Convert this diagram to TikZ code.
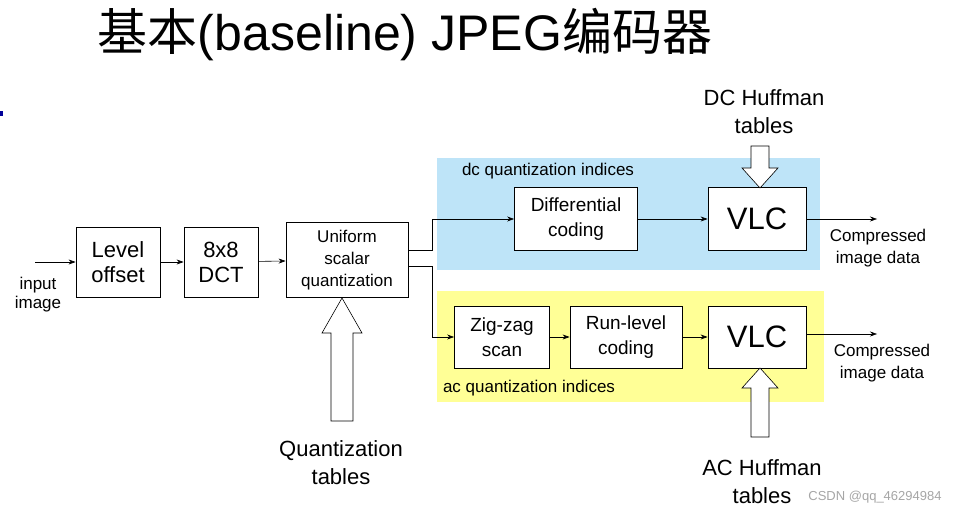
\documentclass[tikz,border=0pt]{standalone}
\usepackage{fontspec}
\setmainfont{Liberation Sans}
\newfontfamily\cjk{Noto Sans CJK SC}
\usetikzlibrary{arrows.meta}
\definecolor{dcblue}{RGB}{190,228,248}
\definecolor{acyellow}{RGB}{255,255,150}
\tikzset{
  blk/.style={draw,thick,fill=white,align=center,inner sep=0pt},
  lbl/.style={align=center,inner sep=0pt},
  con/.style={-{Stealth[length=7pt,width=5pt]},semithick},
  hollow/.style={draw,semithick,fill=white}
}
\begin{document}
\begin{tikzpicture}[x=1pt,y=-1pt]
\useasboundingbox (0,0) rectangle (975,513);
\fill[white] (0,0) rectangle (975,513);
% title
\node[lbl,font=\fontsize{50}{54}\selectfont] (title) at (405,35) {{\cjk 基本}(baseline) JPEG{\cjk 编码器}};
\fill[blue!60!black] (0,111) rectangle (3,116);
% background bands
\fill[dcblue] (437,158) rectangle (820,270);
\fill[acyellow] (437,291) rectangle (824,402);
% boxes
\node[blk,minimum width=84,minimum height=70,font=\fontsize{22}{25}\selectfont] (lvl) at (118,262) {Level\\offset};
\node[blk,minimum width=74,minimum height=70,font=\fontsize{22}{25}\selectfont] (dct) at (221,262) {8x8\\DCT};
\node[blk,minimum width=122,minimum height=75,font=\fontsize{17}{22}\selectfont] (q) at (347,260) {Uniform\\scalar\\quantization};
\node[blk,minimum width=123,minimum height=63,font=\fontsize{19}{25}\selectfont] (diff) at (576,219) {Differential\\coding};
\node[blk,minimum width=98,minimum height=63,font=\fontsize{31}{33}\selectfont] (vlc1) at (757,219) {VLC};
\node[blk,minimum width=95,minimum height=62,font=\fontsize{19}{25}\selectfont] (zz) at (502,337) {Zig-zag\\scan};
\node[blk,minimum width=112,minimum height=62,font=\fontsize{19}{25}\selectfont] (rl) at (626,337) {Run-level\\coding};
\node[blk,minimum width=98,minimum height=62,font=\fontsize{31}{33}\selectfont] (vlc2) at (757,337) {VLC};
% labels
\node[lbl,font=\fontsize{17}{19}\selectfont] (inl) at (38,295) {input\\image};
\coordinate (in) at (35,262);
\node[lbl,font=\fontsize{17}{19}\selectfont] (dcl) at (548,171) {dc quantization indices};
\node[lbl,font=\fontsize{17}{19}\selectfont] (acl) at (529,388) {ac quantization indices};
\node[lbl,font=\fontsize{17}{22}\selectfont] (out1) at (878,248) {Compressed\\image data};
\node[lbl,font=\fontsize{17}{22}\selectfont] (out2) at (882,363) {Compressed\\image data};
\coordinate (o1) at (877,219);
\coordinate (o2) at (877,334);
\node[lbl,font=\fontsize{22}{28}\selectfont] (dch) at (764,112) {DC Huffman\\tables};
\node[lbl,font=\fontsize{22}{28}\selectfont] (qt) at (341,463) {Quantization\\tables};
\node[lbl,font=\fontsize{22}{28}\selectfont] (ach) at (762,482) {AC Huffman\\tables};
\node[lbl,text=gray!70,font=\fontsize{13}{15}\selectfont] (wm) at (875,497) {CSDN @qq\_46294984};
% connectors
\draw[con] (in) -- (lvl);
\draw[con] (lvl) -- (dct);
\draw[con] (dct) -- (q);
\draw[con] (q.east |- 0,250) -- (432,250) |- (diff);
\draw[con] (q.east |- 0,266) -- (432,266) |- (zz);
\draw[con] (diff) -- (vlc1);
\draw[con] (zz) -- (rl);
\draw[con] (rl) -- (vlc2);
\draw[con] (vlc1.east) -- (o1);
\draw[con] (vlc2.east |- o2) -- (o2);
% hollow block arrows
\draw[hollow] (751,146) -- (769,146) -- (769,168) -- (778,168) -- (760,188) -- (742,168) -- (751,168) -- cycle;
\draw[hollow] (751,437) -- (769,437) -- (769,388) -- (778,388) -- (760,368) -- (742,388) -- (751,388) -- cycle;
\draw[hollow] (331,421) -- (353,421) -- (353,333) -- (362,333) -- (342,298) -- (322,333) -- (331,333) -- cycle;
\end{tikzpicture}
\end{document}
